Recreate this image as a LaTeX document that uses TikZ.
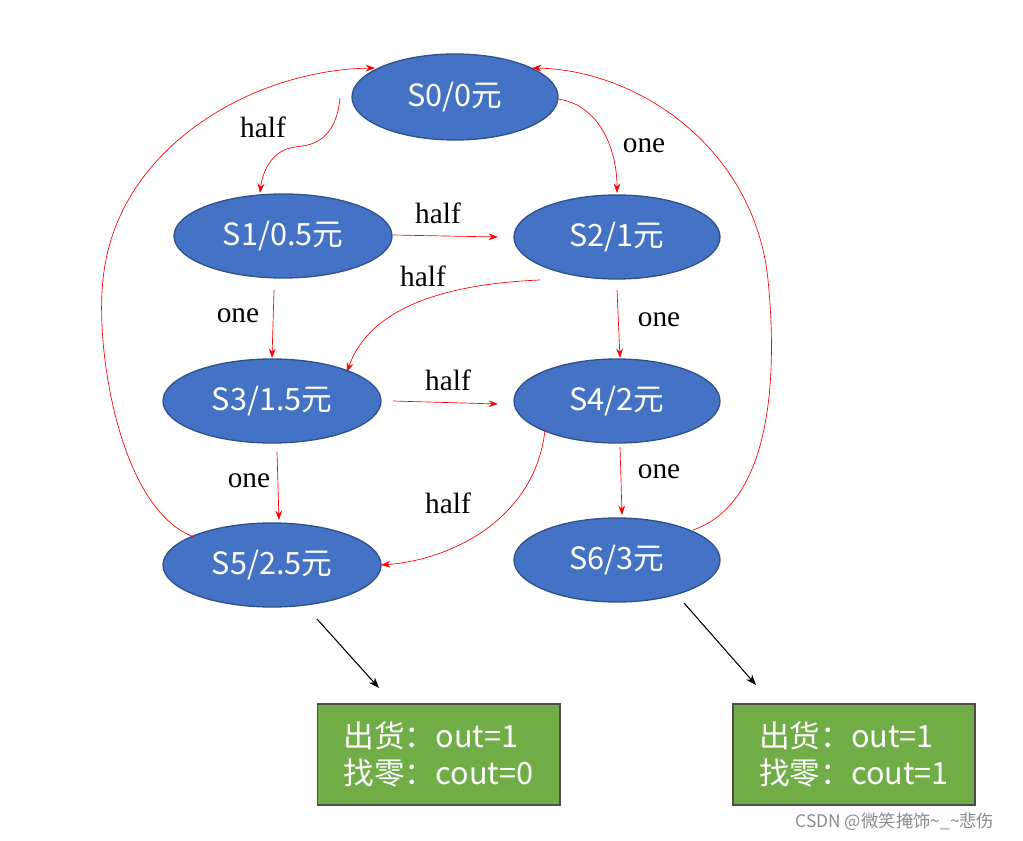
\documentclass[tikz,border=0pt]{standalone}
\usepackage{fontspec}
\setmainfont{Liberation Serif}
\newfontfamily\cjk{Noto Sans CJK SC}
\usetikzlibrary{shapes.geometric,arrows.meta}
\definecolor{stblue}{HTML}{4472C4}
\definecolor{stedge}{HTML}{2F528F}
\definecolor{outgreen}{HTML}{70AD47}
\tikzset{
  state/.style={ellipse,draw=stedge,line width=1pt,fill=stblue,text=white,
    font=\cjk\fontsize{23}{26}\selectfont,inner sep=0pt},
  outbox/.style={draw=black!70,line width=1pt,fill=outgreen,text=white,align=left,
    font=\cjk\fontsize{23}{28}\selectfont,inner sep=0pt},
  trans/.style={red,-{Stealth[length=7pt,width=5pt]},line width=0.5pt},
  lbl/.style={font=\fontsize{22}{24}\selectfont}
}
\begin{document}
\begin{tikzpicture}[x=0.75pt,y=-0.75pt]
\useasboundingbox (0,0) rectangle (1023,841);
\path
(455,97) node[state,minimum width=154.5pt,minimum height=64.5pt](s0) {S0/0元}
(283,236) node[state,minimum width=163.5pt,minimum height=63pt](s1) {S1/0.5元}
(617,237) node[state,minimum width=154.5pt,minimum height=63pt](s2) {S2/1元}
(272,401) node[state,minimum width=163.5pt,minimum height=63pt](s3) {S3/1.5元}
(617,401) node[state,minimum width=154.5pt,minimum height=63pt](s4) {S4/2元}
(272,565) node[state,minimum width=163.5pt,minimum height=63pt](s5) {S5/2.5元}
(617,560) node[state,minimum width=154.5pt,minimum height=63pt](s6) {S6/3元}
(438.5,754.5) node[outbox,minimum width=182pt,minimum height=75.75pt](o1) {出货：out=1\\找零：cout=0}
(854,754.5) node[outbox,minimum width=181.5pt,minimum height=75.75pt](o2) {出货：out=1\\找零：cout=1};

\coordinate (p1) at (379,688);
\coordinate (p2) at (756,685);
\draw[trans] (340,98) .. controls (335,150) and (300,145) .. (295,147) .. controls (270,150) and (262,175) .. (260,193);
\draw[trans] (558,99) .. controls (600,105) and (617,150) .. (617,193);
\draw[trans] (393,235) -- (498,237);
\draw[trans] (540,280) .. controls (420,285) and (365,320) .. (347,372);
\draw[trans] (274,290) -- (272,358);
\draw[trans] (617,290) -- (620,358);
\draw[trans] (393,401) -- (498,404);
\draw[trans] (277,452) -- (279,520);
\draw[trans] (545,430) .. controls (535,520) and (450,560) .. (381,565);
\draw[trans] (620,447) -- (622,515);
\draw[trans] (194,537) .. controls (120,510) and (95,350) .. (103,280)
  .. controls (115,150) and (250,70) .. (375,68);
\draw[trans] (693,530) .. controls (780,500) and (775,350) .. (768,280)
  .. controls (755,150) and (640,70) .. (532,68);
\draw[-{Stealth[length=8pt,width=6pt]},line width=0.8pt] (317,619) -- (p1);
\draw[-{Stealth[length=8pt,width=6pt]},line width=0.8pt] (684,603) -- (p2);

\node[lbl] at (263,127) {half};
\node[lbl] at (644,146) {one};
\node[lbl] at (438,213) {half};
\node[lbl] at (423,276) {half};
\node[lbl] at (238,316) {one};
\node[lbl] at (659,320) {one};
\node[lbl] at (448,380) {half};
\node[lbl] at (249,481) {one};
\node[lbl] at (448,503) {half};
\node[lbl] at (659,472) {one};
\node[text=black!45,font=\cjk\fontsize{13}{15}\selectfont] at (895,822) {CSDN @微笑掩饰\textasciitilde\_\textasciitilde 悲伤};
\end{tikzpicture}
\end{document}
